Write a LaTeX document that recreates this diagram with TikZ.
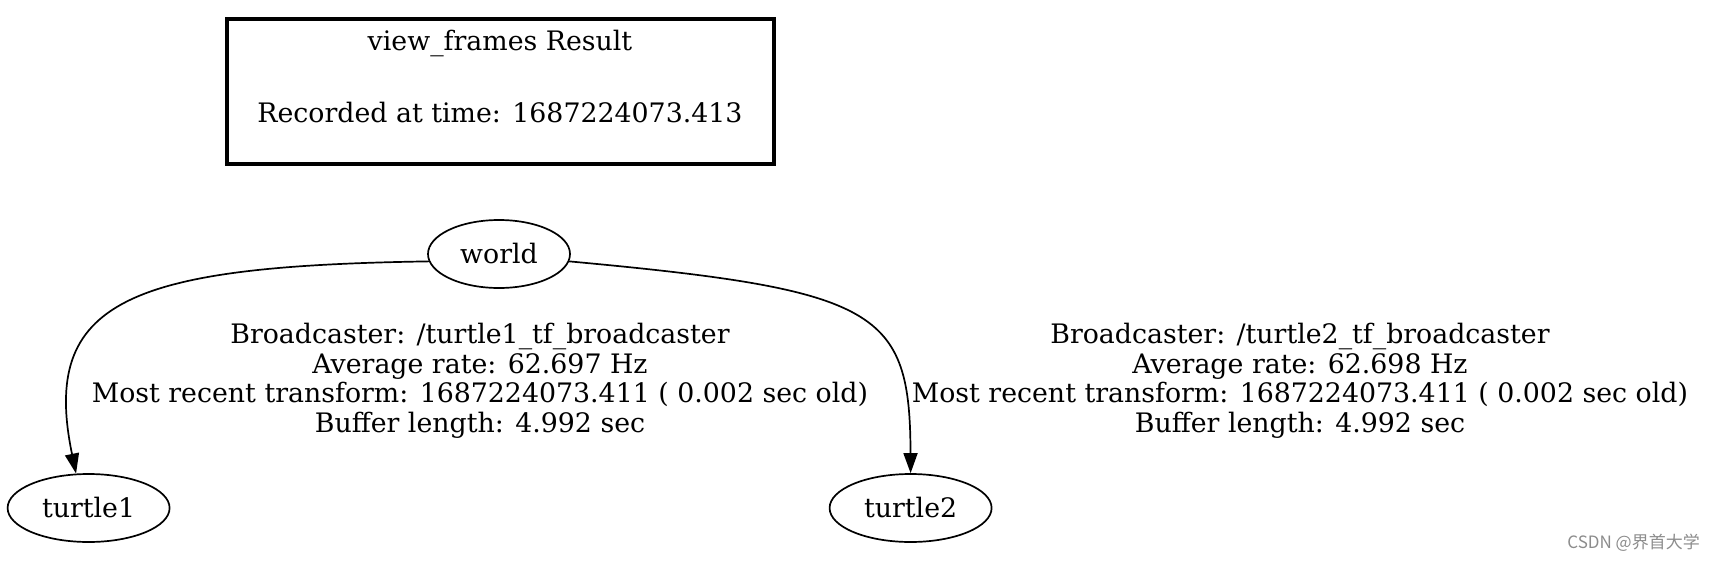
\documentclass[tikz,border=0pt]{standalone}
\usepackage{fontspec}
\setmainfont{DejaVu Serif}
\newfontfamily\cjkfont{Noto Sans CJK SC}
\usetikzlibrary{shapes.geometric,arrows.meta}
\tikzset{
  frame/.style={ellipse,draw,line width=1.7pt,minimum width=142pt,minimum height=68pt,inner sep=0pt,font=\fontsize{26.8}{29}\selectfont},
  tfedge/.style={line width=1.7pt,-{Triangle[length=20pt,width=14pt]}},
  lbl/.style={align=center,inner sep=0pt,font=\fontsize{26.8}{29.5}\selectfont},
  ttl/.style={inner sep=0pt,font=\fontsize{26.8}{29}\selectfont}
}
\begin{document}
\begin{tikzpicture}[x=1pt,y=-1pt]
\useasboundingbox (0,0) rectangle (1716,562);
\node[draw,line width=4pt,minimum width=547pt,minimum height=145pt,inner sep=0pt] (res) at (500,91.4) {};
\node[ttl] (t1) at (500,43.5) {view\_frames Result};
\node[ttl] (t2) at (500,113) {Recorded at time: 1687224073.413};
\node[frame] (world) at (499,254) {world};
\node[frame,minimum width=162pt] (turtle1) at (88.6,508) {turtle1};
\node[frame,minimum width=162pt] (turtle2) at (910.6,508) {turtle2};
\draw[tfedge] (world.186) .. controls (130,266) and (40,300) .. (turtle1.110);
\draw[tfedge] (world.354) .. controls (880,290) and (910,310) .. (turtle2.north);
\node[lbl] (l1) at (480,381) {Broadcaster: /turtle1\_tf\_broadcaster\\Average rate: 62.697 Hz\\Most recent transform: 1687224073.411 ( 0.002 sec old)\\Buffer length: 4.992 sec};
\node[lbl] (l2) at (1300,381) {Broadcaster: /turtle2\_tf\_broadcaster\\Average rate: 62.698 Hz\\Most recent transform: 1687224073.411 ( 0.002 sec old)\\Buffer length: 4.992 sec};
\node[inner sep=0pt,anchor=east,text=black!45,font=\cjkfont\fontsize{17}{19}\selectfont] (wm) at (1700,543) {CSDN @界首大学};
\end{tikzpicture}
\end{document}
